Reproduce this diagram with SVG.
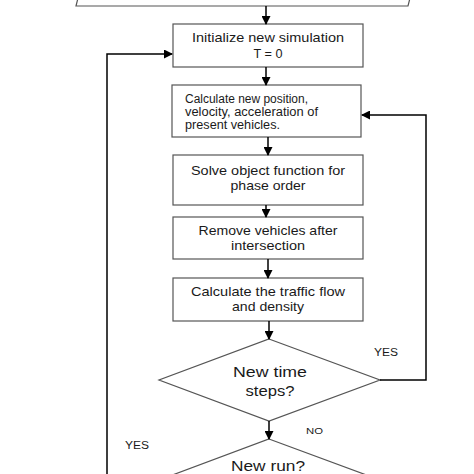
<svg xmlns="http://www.w3.org/2000/svg" width="474" height="474" viewBox="0 0 474 474">
<defs>
<marker id="ah" markerWidth="9" markerHeight="9" refX="8" refY="4.5" orient="auto" markerUnits="userSpaceOnUse">
<path d="M0,0 L9,4.5 L0,9 Z" fill="#000"/>
</marker>
<style>
.box{fill:#fff;stroke:#555;stroke-width:1.2}
.ln{fill:none;stroke:#000;stroke-width:1.5}
.t{font-family:"Liberation Sans",Arial,sans-serif;font-size:13px;fill:#1a1a1a;text-anchor:middle}
.s{font-family:"Liberation Sans",Arial,sans-serif;font-size:12px;fill:#1a1a1a}
.d{font-family:"Liberation Sans",Arial,sans-serif;font-size:14px;fill:#1a1a1a;text-anchor:middle}
.lb{font-family:"Liberation Sans",Arial,sans-serif;font-size:10px;fill:#1a1a1a}
</style>
</defs>
<rect width="474" height="474" fill="#fff"/>
<g id="start">
<path class="box" d="M80,-10 L412,-10 L408,6 L76,6 Z"/>
</g>
<g id="init">
<rect class="box" x="173" y="24" width="190" height="43"/>
<text class="t" x="268" y="42" textLength="152" lengthAdjust="spacingAndGlyphs">Initialize new simulation</text>
<text class="t" x="268" y="58" textLength="29" lengthAdjust="spacingAndGlyphs">T = 0</text>
</g>
<g id="calcpos">
<rect class="box" x="172" y="85" width="189" height="52"/>
<text class="s" x="185" y="103" textLength="123" lengthAdjust="spacingAndGlyphs">Calculate new position,</text>
<text class="s" x="185" y="116" textLength="133" lengthAdjust="spacingAndGlyphs">velocity, acceleration of</text>
<text class="s" x="185" y="129" textLength="95" lengthAdjust="spacingAndGlyphs">present vehicles.</text>
</g>
<g id="solve">
<rect class="box" x="173" y="155" width="190" height="50"/>
<text class="t" x="268" y="175" textLength="154" lengthAdjust="spacingAndGlyphs">Solve object function for</text>
<text class="t" x="268" y="190" textLength="75" lengthAdjust="spacingAndGlyphs">phase order</text>
</g>
<g id="remove">
<rect class="box" x="173" y="217" width="190" height="42"/>
<text class="t" x="268" y="235" textLength="139" lengthAdjust="spacingAndGlyphs">Remove vehicles after</text>
<text class="t" x="268" y="250" textLength="74" lengthAdjust="spacingAndGlyphs">intersection</text>
</g>
<g id="flow">
<rect class="box" x="173" y="278" width="190" height="43"/>
<text class="t" x="268" y="296" textLength="154" lengthAdjust="spacingAndGlyphs">Calculate the traffic flow</text>
<text class="t" x="268" y="311" textLength="72" lengthAdjust="spacingAndGlyphs">and density</text>
</g>
<g id="timesteps">
<path class="box" d="M269,339 L380,380 L269,421 L159,380 Z"/>
<text class="d" x="270" y="377" textLength="74" lengthAdjust="spacingAndGlyphs">New time</text>
<text class="d" x="270" y="396" textLength="49" lengthAdjust="spacingAndGlyphs">steps?</text>
</g>
<g id="newrun">
<path class="box" d="M269,439 L380,480 L269,521 L159,480 Z"/>
<text class="d" x="268" y="471" textLength="74" lengthAdjust="spacingAndGlyphs">New run?</text>
</g>
<g id="connectors">
<line class="ln" x1="266" y1="6" x2="266" y2="24" marker-end="url(#ah)"/>
<line class="ln" x1="266" y1="67" x2="266" y2="85" marker-end="url(#ah)"/>
<line class="ln" x1="268" y1="137" x2="268" y2="155" marker-end="url(#ah)"/>
<line class="ln" x1="266" y1="205" x2="266" y2="217" marker-end="url(#ah)"/>
<line class="ln" x1="268" y1="259" x2="268" y2="278" marker-end="url(#ah)"/>
<line class="ln" x1="269" y1="321" x2="269" y2="339" marker-end="url(#ah)"/>
<line class="ln" x1="269" y1="421" x2="269" y2="439" marker-end="url(#ah)"/>
<polyline class="ln" points="380,380 426,380 426,115 362,115" marker-end="url(#ah)"/>
<polyline class="ln" points="159,480 107,480 107,54 172,54" marker-end="url(#ah)"/>
<text class="lb" x="374" y="356" textLength="24" lengthAdjust="spacingAndGlyphs">YES</text>
<text class="lb" x="306" y="434" textLength="17" lengthAdjust="spacingAndGlyphs" style="font-size:9px">NO</text>
<text class="lb" x="125" y="449" textLength="24" lengthAdjust="spacingAndGlyphs">YES</text>
</g>
</svg>
